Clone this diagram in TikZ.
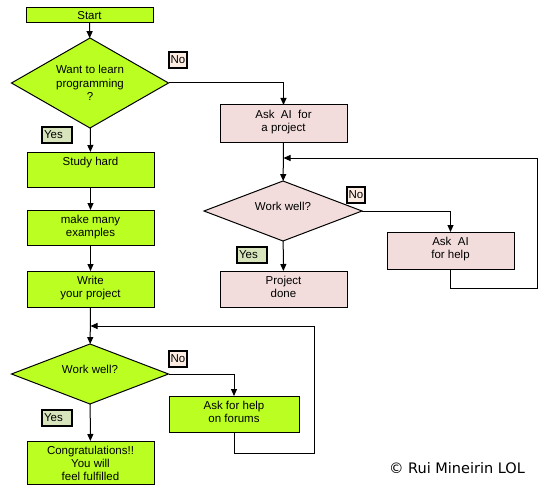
\documentclass[tikz,border=0pt]{standalone}
\usepackage{fontspec}
\setmainfont{Liberation Sans}
\newfontfamily\signfont{DejaVu Sans}
\usepackage{tikz}
\usetikzlibrary{shapes.geometric,arrows.meta}
\definecolor{lime}{RGB}{187,255,34}
\definecolor{rose}{RGB}{242,221,220}
\definecolor{sage}{RGB}{216,228,188}
\definecolor{peach}{RGB}{253,236,226}
% box text: width, height, lines
\newcommand{\boxtxt}[3]{\parbox[c][#2][t]{#1}{\centering\vspace*{5pt}#3}}
\newcommand{\upby}[1]{\raisebox{5pt}[\height][\depth]{#1}}

\begin{document}
\begin{tikzpicture}[x=1pt,y=-1pt,line width=1pt,
        font=\fontsize{11.5}{13.3}\selectfont,
        >={Triangle[length=7pt,width=6pt]},
        box/.style={draw,inner sep=0pt,outer sep=0pt,anchor=north west},
        choice/.style={draw,diamond,aspect=2,inner sep=0pt,outer sep=0pt,align=center},
        yes/.style={draw,line width=2pt,fill=sage,inner xsep=2pt,inner ysep=1pt,
                    text width=26pt,align=left,minimum height=16pt},
        no/.style={draw,line width=2pt,fill=peach,inner xsep=2pt,inner ysep=1pt,
                   minimum height=16pt}]
            \useasboundingbox (0,0) rectangle (554,500);
            % left column
            \node[box,fill=lime] (start) at (26,8) {\boxtxt{127pt}{15pt}{\vspace*{-2pt}Start}};
            \node[choice,fill=lime,minimum width=157pt,minimum height=90pt] (want) at (90,83)
                {Want to learn\\programming\\?};
            \node[box,fill=lime] (study) at (27,152) {\boxtxt{127pt}{35pt}{Study hard}};
            \node[box,fill=lime] (examples) at (27,210) {\boxtxt{127pt}{35pt}{make many\\examples}};
            \node[box,fill=lime] (write) at (27,271) {\boxtxt{127pt}{36pt}{Write\\your project}};
            \node[choice,fill=lime,minimum width=157pt,minimum height=60pt] (check) at (90,374)
                {\upby{Work well?}};
            \node[box,fill=lime] (forums) at (169,396) {\boxtxt{130pt}{36pt}{Ask for help\\on forums}};
            \node[box,fill=lime] (congrats) at (27,441)
                {\boxtxt{127pt}{43pt}{Congratulations!!\\You will\\feel fulfilled}};
            % right column
            \node[box,fill=rose] (askproj) at (220,105) {\boxtxt{127pt}{38pt}{Ask\ \ AI\ \ for\\a project}};
            \node[choice,fill=rose,minimum width=158pt,minimum height=60pt] (aicheck) at (283,211)
                {\upby{Work well?}};
            \node[box,fill=rose] (askhelp) at (387,232) {\boxtxt{127pt}{37pt}{Ask\ \ AI\\for help}};
            \node[box,fill=rose] (done) at (220,271) {\boxtxt{127pt}{36pt}{Project\\done}};
            % answers
            \node[no] (no1) at (178,60) {No};
            \node[yes] (yes1) at (57,135) {Yes};
            \node[no] (no2) at (356,195) {No};
            \node[yes] (yes2) at (252,255) {Yes};
            \node[no] (no3) at (178,359) {No};
            \node[yes] (yes3) at (57,418) {Yes};
            \node[font=\signfont\fontsize{14.5}{16}\selectfont] (sign) at (457,468) {© Rui Mineirin LOL};
            % connectors
            \draw[->] (start) -- (want);
            \draw[->] (want) -- (study);
            \draw[->] (study) -- (examples);
            \draw[->] (examples) -- (write);
            \draw[->] (write) -- (check);
            \draw[->] (check) -- (congrats);
            \draw[->] (want.east) -| (askproj.north);
            \draw[->] (askproj) -- (aicheck);
            \draw[->] (aicheck) -- (done);
            \draw[->] (aicheck.east) -| (askhelp.north);
            \draw[->] (check.east) -| (forums.north);
            \coordinate (aiback) at (537,288);
            \coordinate (forumback) at (314,453);
            \draw[->] (askhelp.south) |- (aiback) |- (askproj.south |- 0,158);
            \draw[->] (forums.south) |- (forumback) |- (write.south |- 0,326);
        \end{tikzpicture}
\end{document}
